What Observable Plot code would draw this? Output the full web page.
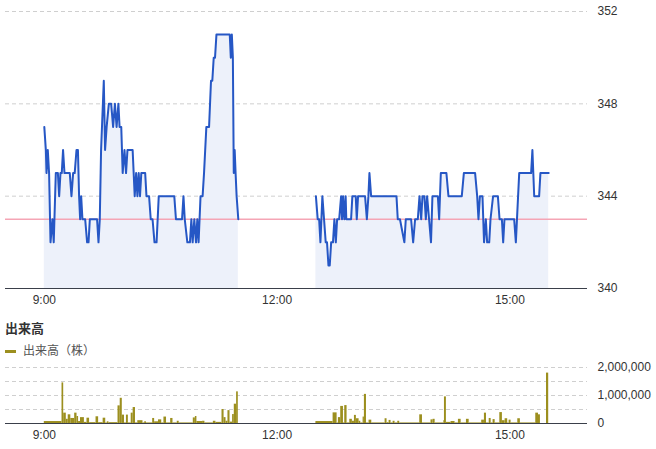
<!DOCTYPE html>
<html lang="ja">
<head>
<meta charset="utf-8">
<script src="https://cdn.jsdelivr.net/npm/d3@7"></script>
<script src="https://cdn.jsdelivr.net/npm/@observablehq/plot@0.6"></script>
<style>
  html, body { margin: 0; padding: 0; background: #fff; }
  #wrap { position: relative; width: 656px; height: 449px; font-family: "Liberation Sans", "Noto Sans CJK JP", sans-serif; }
  #main { position: absolute; left: 0; top: 0; }
  #vtitle { position: absolute; left: 5px; top: 321px; font-size: 13px; font-weight: bold; color: #333; line-height: 16px; }
  #vlegend { position: absolute; left: 5px; top: 343px; font-size: 12px; color: #555; line-height: 16px; display: flex; align-items: center; }
  #vlegend .sw { display: inline-block; width: 11px; height: 3px; background: #9c8f1f; margin-right: 7px; }
  #vol { position: absolute; left: 0; top: 358px; }
  svg { display: block; }
</style>
</head>
<body>
<div id="wrap">
  <div id="main"></div>
  <div id="vtitle">出来高</div>
  <div id="vlegend"><span class="sw"></span>出来高（株）</div>
  <div id="vol"></div>
</div>
<script>
// ---- Data ----
const sessionStarts = [9, 12.5];          // hours: morning, afternoon open
const sessionLengths = [150, 180];        // minutes
const xTicks = [9, 12, 15];
const priceTicks = [340, 344, 348, 352];
const priceGrid = [344, 348, 352];
const priceDomain = [340, 352];
const prevClose = 343;
const volTicks = [0, 1000000, 2000000];
const volGrid = [500000, 1000000, 1500000, 2000000];

// morning prices: minutes after 9:00, price
const amMin = [0,1.2,1.7,2.7,3.7,4.8,6.3,7.3,8.9,10.5,11.5,12.5,13.5,14.5,15.6,19.7,21,22.3,23.5,24.9,26,26.9,27.7,28.5,29.5,31.6,33.1,34.2,35.2,40.8,41.9,42.9,43.9,46,47,48.2,49.9,51.7,53.2,54.6,55.9,57.3,58.2,59.5,60.6,62,63.2,64.3,68.3,69.9,71,72,73,74,75,78,79,81,82.3,83.7,85.2,86.8,88.5,100.5,101.8,106.5,107.6,108.6,110.6,112.6,113.7,114.7,116,117.3,118.3,119.3,120.8,122.4,123.5,125.3,127.4,128.9,129.9,131,132,133.1,143.4,144.2,145,145.8,146.5,147.2,147.9,148.7,150];
const amPx  = [347,346,345,346,345,342,343,342,345,345,344,345,345,346,345,345,344,345,345,346,346,344,343,344,343,343,342,342,343,343,342,343,346,349,346,347,348,348,347,348,347,348,347,347,345,346,345,346,346,344,345,344,345,344,345,345,344,344,343,343,342,342,344,344,343,343,344,343,342,342,343,342,343,342,343,342,344,344,345,347,347,349,349,350,350,351,351,350,351,350,345,346,345,344,343];

// afternoon prices: minutes after 12:30, price
const pmMin = [0,1.4,2.5,3.5,5,6.3,7.6,8.6,9.7,10.7,11.8,13.2,14.3,15.4,16.4,18,19.5,20.2,21,22,23,23.5,27.2,28.2,30.8,31.6,32.6,38,39.4,40.6,41.4,42.7,62.3,63.3,65,68.4,69.5,73.6,75.2,76.7,78.8,80.1,81.4,82.4,83.9,85,86,87.5,89,90.1,94.3,95.3,96.6,100.9,102.5,112.8,114.4,123.1,124.7,125.7,126.8,128.8,130,131.4,132.4,134,135,137,140.7,142,143.8,144.8,145.8,153.3,154.6,157.2,166.4,167.4,168.8,172.6,173.6,180];
const pmPx  = [344,343,343,342,344,343,342,342,341,341,342,342,343,342,343,343,344,343,344,343,344,343,343,344,344,343,344,344,343,344,345,344,344,343,343,342,343,343,342,343,343,344,343,344,344,343,344,343,342,344,344,343,345,345,344,344,345,345,344,343,344,344,342,343,342,342,343,344,344,343,343,342,343,343,342,345,345,346,344,344,345,345];

// volume (shares): step starts in minutes after session open, value holds until next start
const amVolMin = [0,13.7,15,17,18.5,20.5,23.5,25.3,26.5,28,31,33,35,40,42,45.5,47.5,48.7,50,57,58.7,60.3,62,63.5,65,67.2,68.7,70.5,72.3,76.3,77.6,79,83.8,85.3,88.3,90.8,92.5,94.5,97.7,99.5,102.8,104.3,115.2,116.8,118,122.4,124.2,130.7,132.7,137.4,139,140.5,142,143.6,145.6,146.9,148.7];
const amVol = [70000,1450000,370000,150000,310000,180000,370000,250000,70000,210000,40000,190000,30000,240000,30000,190000,20000,60000,30000,630000,900000,300000,20000,300000,20000,370000,570000,20000,100000,20000,60000,20000,180000,60000,130000,20000,230000,20000,180000,20000,80000,20000,200000,250000,70000,80000,20000,80000,40000,500000,210000,80000,460000,50000,320000,690000,1130000];
const pmVolMin = [0,13.3,16.4,17.4,19.2,21.3,22.3,24.1,26.2,28.2,29.8,31.3,33.4,34.7,36.5,37.5,39.1,41.1,43.2,53.5,55,56.6,58.1,59.7,61.2,63.3,64.8,80.3,82.4,89,90.6,92.2,98.9,99.4,100.9,104.5,107.6,110.2,112.3,116.4,118.5,128.2,130.3,131.9,134,135.5,137,138.6,142.2,144.2,146.3,148.3,149.4,150.9,156.1,158.1,170,172.1,173.6,178.3];
const pmVol = [70000,380000,20000,210000,610000,20000,640000,20000,150000,80000,290000,170000,80000,20000,230000,1040000,20000,120000,20000,170000,30000,110000,20000,80000,20000,80000,20000,310000,20000,130000,150000,20000,100000,950000,40000,70000,20000,150000,20000,150000,20000,120000,370000,20000,180000,20000,140000,20000,390000,100000,170000,20000,120000,20000,170000,20000,370000,310000,0,1800000];

// ---- Build tables ----
const toHour = (s, m) => sessionStarts[s] + m / 60;
const priceRows = [];
[[amMin, amPx], [pmMin, pmPx]].forEach(([mins, px], s) => {
  mins.forEach((m, i) => priceRows.push({s, t: toHour(s, m), p: px[i]}));
});
const volRows = [];
[[amVolMin, amVol], [pmVolMin, pmVol]].forEach(([mins, vs], s) => {
  mins.forEach((m, i) => {
    const end = i + 1 < mins.length ? mins[i + 1] : sessionLengths[s];
    volRows.push({t1: toHour(s, m), t2: toHour(s, end), v: vs[i]});
  });
});

const font = '"Liberation Sans", "Noto Sans CJK JP", sans-serif';
const common = {
  width: 656, marginLeft: 5, marginRight: 69,
  x: {domain: [8.5, 16], label: null},
  style: {fontFamily: font, fontSize: "12px", color: "#333", background: "transparent", overflow: "visible"}
};
const hourFmt = h => `${h}:00`;

const main = Plot.plot({
  ...common,
  height: 308, marginTop: 11, marginBottom: 20,
  y: {domain: priceDomain, label: null},
  marks: [
    Plot.gridY(priceGrid, {stroke: "#cfcfcf", strokeOpacity: 1, strokeDasharray: "4,3"}),
    Plot.areaY(priceRows, {x: "t", y1: () => priceDomain[0], y2: "p", z: "s", fill: "#edf1fa"}),
    Plot.ruleY([prevClose], {stroke: "#f5a5b5", strokeWidth: 1.6}),
    Plot.line(priceRows, {x: "t", y: "p", z: "s", stroke: "#2657c5", strokeWidth: 2, strokeLinejoin: "round"}),
    Plot.ruleY([priceDomain[0]], {stroke: "#3a3f4a", strokeWidth: 1}),
    Plot.axisY(priceTicks, {anchor: "right", label: null, tickSize: 0, tickPadding: 10, fontSize: 12, fill: "#333"}),
    Plot.axisX(xTicks, {label: null, tickSize: 0, tickPadding: 7, tickFormat: hourFmt, fontSize: 12, fill: "#333"})
  ]
});
document.getElementById("main").appendChild(main);

const vol = Plot.plot({
  ...common,
  height: 85, marginTop: 9, marginBottom: 20,
  y: {domain: [0, 2000000], label: null},
  marks: [
    Plot.gridY(volGrid, {stroke: "#cfcfcf", strokeOpacity: 1, strokeDasharray: "4,3"}),
    Plot.rectY(volRows, {x1: "t1", x2: "t2", y: "v", fill: "#9c8f1f", inset: 0}),
    Plot.ruleY([0], {stroke: "#3a3f4a", strokeWidth: 1}),
    Plot.axisY(volTicks, {anchor: "right", label: null, tickSize: 0, tickPadding: 10, fontSize: 12, fill: "#333", tickFormat: d3.format(",")}),
    Plot.axisX(xTicks, {label: null, tickSize: 0, tickPadding: 7, tickFormat: hourFmt, fontSize: 12, fill: "#333"})
  ]
});
document.getElementById("vol").appendChild(vol);
</script>
</body>
</html>
